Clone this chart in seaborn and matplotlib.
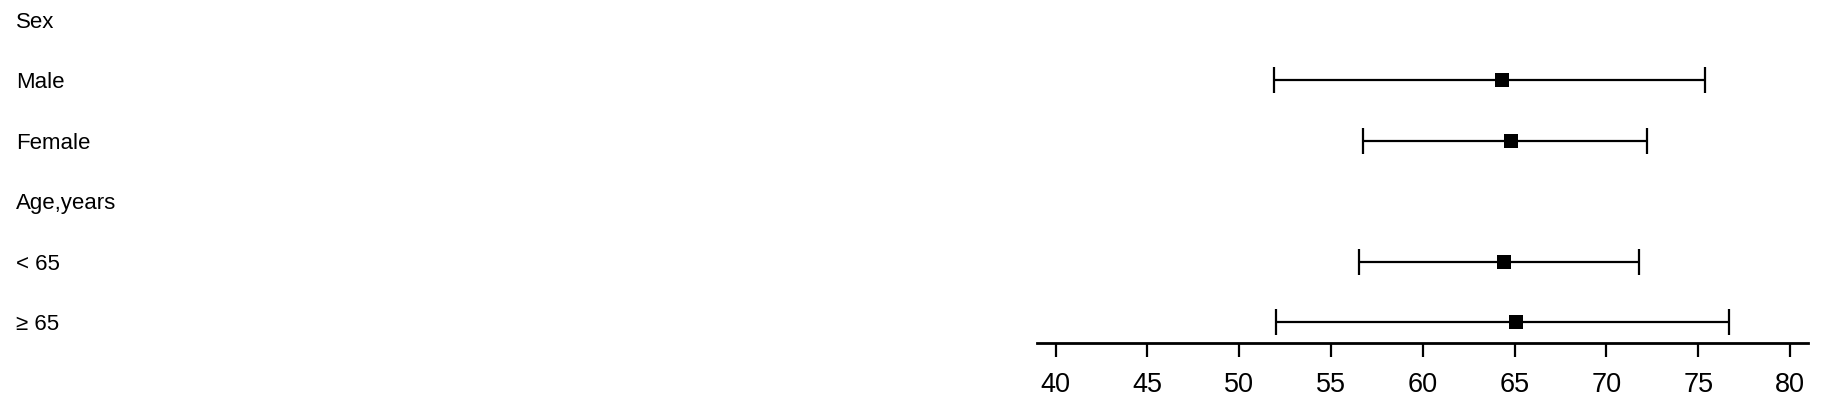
import numpy as np
import pandas as pd
import matplotlib
matplotlib.use("Agg")
import matplotlib.pyplot as plt
import matplotlib.transforms as mtransforms
import seaborn as sns

# ---- data ----
labels = ["Sex", "Male", "Female", "Age,years", "< 65", "\u2265 65"]
estimate = [np.nan, 64.29, 64.78, np.nan, 64.43, 65.07]
lower_ci = [np.nan, 51.91, 56.75, np.nan, 56.54, 52.00]
upper_ci = [np.nan, 75.38, 72.21, np.nan, 71.77, 76.69]
x_ticks = [40, 45, 50, 55, 60, 65, 70, 75, 80]

df = pd.DataFrame({"label": labels, "est": estimate, "lo": lower_ci, "hi": upper_ci})
df["row"] = np.arange(len(df))

sns.set_theme(style="white")
plt.rcParams["font.family"] = ["Liberation Sans", "DejaVu Sans"]

W, H, DPI = 1832, 416, 100
fig = plt.figure(figsize=(W / DPI, H / DPI), dpi=DPI)

ax_left_px, ax_right_px = 1037.3, 1808.4
ax_bottom_px = 342.7
ax = fig.add_axes([ax_left_px / W, 1 - ax_bottom_px / H,
                   (ax_right_px - ax_left_px) / W, ax_bottom_px / H])

d = df.dropna(subset=["est"])
ax.errorbar(d["est"], d["row"], xerr=[d["est"] - d["lo"], d["hi"] - d["est"]],
            fmt="none", ecolor="black", elinewidth=1.6, capsize=9.7,
            capthick=1.6, zorder=2)
sns.scatterplot(data=d, x="est", y="row", marker="s", s=115, color="black",
                edgecolor="black", linewidth=0, ax=ax, zorder=3, legend=False)

row_px0, row_step = 20.0, 60.46
ax.set_xlim(39, 81)
ax.set_ylim((ax_bottom_px - row_px0) / row_step, -row_px0 / row_step)

ax.set_xticks(x_ticks)
ax.set_xticklabels([str(t) for t in x_ticks])
ax.set_yticks([])
ax.set_xlabel("")
ax.set_ylabel("")
for s in ["top", "right", "left"]:
    ax.spines[s].set_visible(False)
ax.spines["bottom"].set_linewidth(2.0)
ax.spines["bottom"].set_color("black")
ax.tick_params(axis="x", direction="out", length=10, width=1.6, colors="black",
               labelsize=19.5, pad=11, bottom=True)
ax.set_facecolor("none")

trans = mtransforms.blended_transform_factory(fig.transFigure, ax.transData)
for r, lab in zip(df["row"], df["label"]):
    fig.text(16 / W, r, lab, transform=trans, ha="left", va="center_baseline",
             fontsize=16, color="black")

fig.savefig("out.png", dpi=DPI)
